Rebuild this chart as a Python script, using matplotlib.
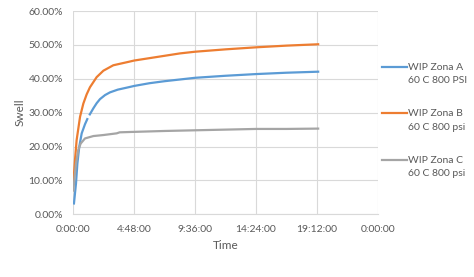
import numpy as np
import matplotlib
matplotlib.use("Agg")
import matplotlib.pyplot as plt
from matplotlib.legend_handler import HandlerLine2D


# time in hours, swell as fraction
zona_a_t = [0.05, 0.21, 0.32, 0.47, 0.66, 0.92, 1.1, 1.2, 1.3, 1.58, 1.84, 2.1,
            2.5, 2.89, 3.5, 4.34, 4.8, 6.0, 7.2, 8.4, 9.6, 12.0, 14.4, 16.8, 19.3]
zona_a = [0.032, 0.091, 0.15, 0.20, 0.239, 0.266, 0.281, np.nan, 0.295, 0.313, 0.328,
          0.34, 0.352, 0.36, 0.368, 0.375, 0.379, 0.387, 0.393, 0.398, 0.403,
          0.409, 0.414, 0.418, 0.421]

zona_b_t = [0.0, 0.13, 0.26, 0.53, 0.79, 1.05, 1.31, 1.84, 2.37, 3.15, 4.34, 4.8,
            6.0, 7.2, 8.4, 9.6, 12.0, 14.4, 16.8, 19.3]
zona_b = [0.09, 0.16, 0.219, 0.288, 0.327, 0.354, 0.375, 0.405, 0.424, 0.440, 0.450,
          0.454, 0.461, 0.468, 0.475, 0.480, 0.487, 0.493, 0.498, 0.502]

zona_c_t = [0.0, 0.1, 0.21, 0.39, 0.58, 0.92, 1.58, 2.37, 3.42, 3.65, 4.47, 7.2,
            9.6, 12.0, 14.4, 16.8, 19.3]
zona_c = [0.07, 0.11, 0.15, 0.19, 0.209, 0.224, 0.231, 0.234, 0.239, 0.242, 0.243,
          0.246, 0.248, 0.250, 0.252, 0.252, 0.253]

labels = ["WIP Zona A\n60 C 800 PSI", "WIP Zona B\n60 C 800 psi", "WIP Zona C\n60 C 800 psi"]
colors = ["#5B9BD5", "#ED7D31", "#A5A5A5"]

x_ticks = [0, 4.8, 9.6, 14.4, 19.2, 24.0]
x_tick_labels = ["0:00:00", "4:48:00", "9:36:00", "14:24:00", "19:12:00", "0:00:00"]
y_ticks = [0.0, 0.1, 0.2, 0.3, 0.4, 0.5, 0.6]

plt.rcParams["font.family"] = ["Lato", "DejaVu Sans"]
text_color = "#595959"


class FirstLineHandler(HandlerLine2D):
    # put the legend line next to the first text line
    def create_artists(self, legend, orig_handle, xdescent, ydescent,
                       width, height, fontsize, trans):
        artists = super().create_artists(legend, orig_handle, xdescent, ydescent,
                                         width, height, fontsize, trans)
        for a in artists:
            a.set_ydata(np.asarray(a.get_ydata()) + 5.3)
        return artists


fig = plt.figure(figsize=(4.74, 2.77), dpi=100)
ax = fig.add_axes([0.1547, 0.2264, 0.6423, 0.7336])

series = [(zona_a_t, zona_a), (zona_b_t, zona_b), (zona_c_t, zona_c)]
for (t, v), lab, col in zip(series, labels, colors):
    ax.plot(t, v, color=col, linewidth=1.6, label=lab)

ax.set_xlim(0, 24)
ax.set_ylim(0, 0.6)
ax.set_xticks(x_ticks)
ax.set_xticklabels(x_tick_labels)
ax.set_yticks(y_ticks)
ax.set_yticklabels(["{:.2f}%".format(v * 100) for v in y_ticks])

ax.grid(True, color="#D9D9D9", linewidth=0.8)
ax.set_axisbelow(True)
for side in ["top", "right", "left"]:
    ax.spines[side].set_visible(False)
ax.spines["bottom"].set_color("#D9D9D9")

ax.tick_params(length=0, labelsize=7.5, colors=text_color)
ax.tick_params(axis="x", pad=8)
ax.tick_params(axis="y", pad=7.5)

ax.set_xlabel("Time", fontsize=8.5, color=text_color, labelpad=4)
ax.set_ylabel("Swell", fontsize=8.5, color=text_color, labelpad=2)

leg = fig.legend(loc="upper left", bbox_to_anchor=(0.805, 0.773), frameon=False,
                 fontsize=7.5, labelcolor=text_color, handlelength=2.4,
                 handletextpad=0.15, labelspacing=2.3, borderpad=0, borderaxespad=0,
                 handler_map={plt.Line2D: FirstLineHandler()})
for txt in leg.get_texts():
    txt.set_linespacing(1.65)

fig.savefig("out.png", dpi=100)
